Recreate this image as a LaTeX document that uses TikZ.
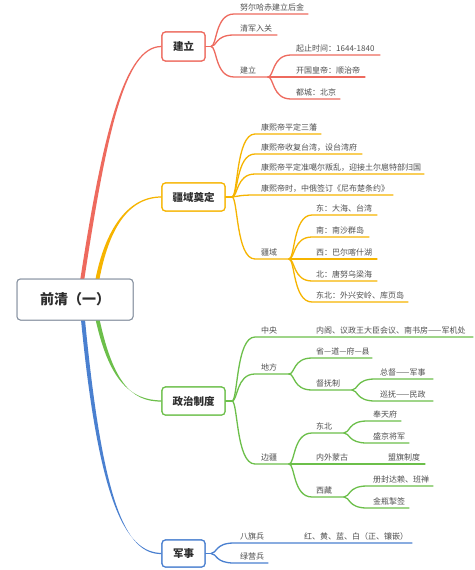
\documentclass[tikz,border=0pt]{standalone}
\usepackage{fontspec}
\setmainfont{Noto Sans CJK SC}
\usetikzlibrary{calc}
\definecolor{cred}{HTML}{EE6A5E}
\definecolor{cora}{HTML}{F6B400}
\definecolor{cgrn}{HTML}{6CBF4A}
\definecolor{cblu}{HTML}{4A80D0}
\definecolor{cgray}{HTML}{8A94A3}
\definecolor{ltxt}{HTML}{505050}
\definecolor{btxt}{HTML}{2E2E2E}
\newcommand\leaf[7]{%
  \node[leaf] (#1) at (#6,#4-4) {#7};
  \coordinate (#1-e) at (#5,#4);
  \draw[twig,#2] (#3) .. controls ($(#3)+(6,0)$) and ($(#3 |- #1-e)+(4,0)$) .. ($(#3 |- #1-e)+(23,0)$) -- (#1-e);
}
\begin{document}
\begin{tikzpicture}[x=1pt,y=-1pt,
  leaf/.style={inner sep=0pt, font=\fontsize{8}{9.6}\selectfont, text=ltxt, anchor=base west},
  twig/.style={line width=1.3pt, line cap=round},
  topic/.style={draw, fill=white, rounded corners=3.5pt, line width=1.2pt,
    font=\fontsize{10.5}{12}\selectfont\bfseries, text=btxt, inner sep=0pt},
  rootbox/.style={topic, draw=cgray, line width=1pt, font=\fontsize{14}{16}\selectfont\bfseries,
    minimum width=116pt, minimum height=41pt}]
\useasboundingbox (0,0) rectangle (474,570);
\fill[white] (0,0) rectangle (474,570);

% topic boxes (named), to place the branches
\path (75,299.5) node[rootbox] (root) {前清（一）};
\path (183.5,46.5) node[topic, draw=cred, minimum width=43pt, minimum height=29pt] (t1) {建立};
\path (193.5,197) node[topic, draw=cora, minimum width=63pt, minimum height=28pt] (t2) {疆域奠定};
\path (193.5,401) node[topic, draw=cgrn, minimum width=63pt, minimum height=28pt] (t3) {政治制度};
\path (183.5,553.5) node[topic, draw=cblu, minimum width=43pt, minimum height=27pt] (t4) {军事};

% main tapered branches
\fill[cred] ([xshift=63pt,yshift=-6pt]root.north west) .. controls (103,130) and (125,45.6) .. ([yshift=0.6pt]t1.west)
  -- ([yshift=-0.6pt]t1.west) .. controls (125,47.4) and (107,130) .. ([xshift=67pt,yshift=-6pt]root.north west) -- cycle;
\fill[cora] ([xshift=78pt,yshift=-6pt]root.north west) .. controls (103,235) and (125,196.2) .. ([yshift=0.6pt]t2.west)
  -- ([yshift=-0.6pt]t2.west) .. controls (125,197.8) and (107,235) .. ([xshift=82pt,yshift=-6pt]root.north west) -- cycle;
\fill[cgrn] ([xshift=78pt,yshift=6pt]root.south west) .. controls (108,380) and (130,400.2) .. ([yshift=0.6pt]t3.west)
  -- ([yshift=-0.6pt]t3.west) .. controls (130,401.8) and (112,380) .. ([xshift=82pt,yshift=6pt]root.south west) -- cycle;
\fill[cblu] ([xshift=64pt,yshift=6pt]root.south west) .. controls (98,500) and (125,552.7) .. ([yshift=0.6pt]t4.west)
  -- ([yshift=-0.6pt]t4.west) .. controls (125,554.3) and (102,500) .. ([xshift=68pt,yshift=6pt]root.south west) -- cycle;

% redraw boxes on top of branches
\path (75,299.5) node[rootbox] {前清（一）};
\path (183.5,46.5) node[topic, draw=cred, minimum width=43pt, minimum height=29pt] {建立};
\path (193.5,197) node[topic, draw=cora, minimum width=63pt, minimum height=28pt] {疆域奠定};
\path (193.5,401) node[topic, draw=cgrn, minimum width=63pt, minimum height=28pt] {政治制度};
\path (183.5,553.5) node[topic, draw=cblu, minimum width=43pt, minimum height=27pt] {军事};

% forks
\coordinate (f1) at (211,46.5);
\coordinate (f2) at (232,197);
\coordinate (f3) at (232,401);
\coordinate (f4) at (211,553.5);
\draw[twig,cred] (t1.east) -- (f1);
\draw[twig,cora] (t2.east) -- (f2);
\draw[twig,cgrn] (t3.east) -- (f3);
\draw[twig,cblu] (t4.east) -- (f4);

% group 1
\leaf{a1}{cred}{f1}{14}{308}{240}{努尔哈赤建立后金}
\leaf{a2}{cred}{f1}{35}{277}{240}{清军入关}
\leaf{a3}{cred}{f1}{77}{268}{240}{建立}
\leaf{a31}{cred}{a3-e}{55}{380}{296}{起止时间：1644-1840}
\leaf{a32}{cred}{a3-e}{77}{365}{296}{开国皇帝：顺治帝}
\leaf{a33}{cred}{a3-e}{99}{340}{296}{都城：北京}

% group 2
\leaf{b1}{cora}{f2}{134}{321}{261}{康熙帝平定三藩}
\leaf{b2}{cora}{f2}{154}{362}{261}{康熙帝收复台湾，设台湾府}
\leaf{b3}{cora}{f2}{174}{424}{261}{康熙帝平定准噶尔叛乱，迎接土尔扈特部归国}
\leaf{b4}{cora}{f2}{195}{393}{261}{康熙帝时，中俄签订《尼布楚条约》}
\leaf{b5}{cora}{f2}{259}{289}{261}{疆域}
\leaf{b51}{cora}{b5-e}{215}{377}{316}{东：大海、台湾}
\leaf{b52}{cora}{b5-e}{237}{369}{316}{南：南沙群岛}
\leaf{b53}{cora}{b5-e}{259}{377}{316}{西：巴尔喀什湖}
\leaf{b54}{cora}{b5-e}{281}{377}{316}{北：唐努乌梁海}
\leaf{b55}{cora}{b5-e}{302}{408}{316}{东北：外兴安岭、库页岛}

% group 3
\leaf{c1}{cgrn}{f3}{337}{473}{261}{中央}
\node[leaf] (c1x) at (316,333) {内阁、议政王大臣会议、南书房——军机处};
\leaf{c2}{cgrn}{f3}{374}{289}{261}{地方}
\leaf{c21}{cgrn}{c2-e}{358}{372}{316}{省—道—府—县}
\leaf{c22}{cgrn}{c2-e}{390}{352}{316}{督抚制}
\leaf{c221}{cgrn}{c22-e}{379}{433}{380}{总督——军事}
\leaf{c222}{cgrn}{c22-e}{401}{433}{380}{巡抚——民政}
\leaf{c3}{cgrn}{f3}{464}{289}{261}{边疆}
\leaf{c31}{cgrn}{c3-e}{433}{344}{316}{东北}
\leaf{c311}{cgrn}{c31-e}{421}{401}{373}{奉天府}
\leaf{c312}{cgrn}{c31-e}{443}{409}{373}{盛京将军}
\leaf{c32}{cgrn}{c3-e}{464}{425}{316}{内外蒙古}
\node[leaf] (c32x) at (388,460) {盟旗制度};
\leaf{c33}{cgrn}{c3-e}{497}{344}{316}{西藏}
\leaf{c331}{cgrn}{c33-e}{486}{433}{373}{册封达赖、班禅}
\leaf{c332}{cgrn}{c33-e}{508}{409}{373}{金瓶掣签}

% group 4
\leaf{d1}{cblu}{f4}{543}{412}{240}{八旗兵}
\node[leaf] (d1x) at (304,539) {红、黄、蓝、白（正、镶嵌）};
\leaf{d2}{cblu}{f4}{563}{268}{240}{绿营兵}
\end{tikzpicture}
\end{document}
